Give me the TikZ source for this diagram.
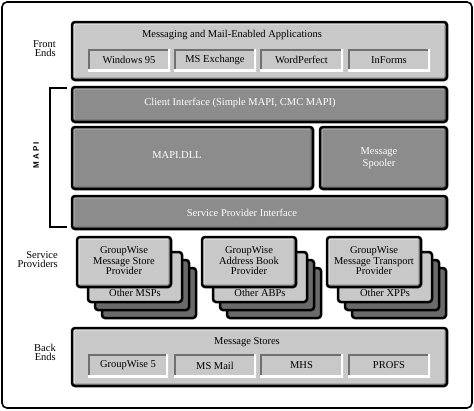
\documentclass[tikz,border=0pt]{standalone}
\usepackage{fontspec}
\setmainfont{Liberation Serif}
\newfontfamily\labsans{Liberation Sans}[LetterSpace=25]
\definecolor{lg}{HTML}{C8C8C8}
\definecolor{mg}{HTML}{8C8C8C}
\definecolor{dg}{HTML}{6A6A6A}
\definecolor{hlL}{HTML}{E4E4E4}
\definecolor{shL}{HTML}{7C7C7C}
\definecolor{hlM}{HTML}{ABABAB}
\definecolor{shM}{HTML}{5C5C5C}
\definecolor{sunkD}{HTML}{707070}
\tikzset{
  bevel/.style 2 args={path picture={
    \draw[#1, line width=5pt] (path picture bounding box.south west) -- (path picture bounding box.north west) -- (path picture bounding box.north east);
    \draw[#2, line width=5pt] (path picture bounding box.north east) -- (path picture bounding box.south east) -- (path picture bounding box.south west);
  }},
  sunkbevel/.style={path picture={
    \draw[sunkD, line width=4pt] (path picture bounding box.south west) -- (path picture bounding box.north west) -- (path picture bounding box.north east);
    \draw[white, line width=4pt] (path picture bounding box.north east) -- (path picture bounding box.south east) -- (path picture bounding box.south west);
  }},
  raisedL/.style={draw=black, line width=2.5pt, rounded corners=3pt, fill=lg, bevel={hlL}{shL}, inner sep=0pt},
  raisedM/.style={draw=black, line width=2.5pt, rounded corners=3pt, fill=mg, bevel={hlM}{shM}, inner sep=0pt},
  stackD/.style={draw=black, line width=2.5pt, rounded corners=3pt, fill=dg, inner sep=0pt, minimum width=94pt, minimum height=50pt},
  stackL/.style={draw=black, line width=2.5pt, rounded corners=3pt, fill=lg, inner sep=0pt, minimum width=94pt, minimum height=50pt},
  provfront/.style={raisedL, minimum width=94pt, minimum height=50pt},
  sunk/.style={fill=lg, sunkbevel, inner sep=0pt, minimum width=82pt},
  txt/.style={font=\fontsize{10.5}{10.5}\selectfont, inner sep=0pt, align=center},
  wtxt/.style={txt, text=white},
  sidelab/.style={font=\fontsize{10.5}{9}\selectfont, inner sep=0pt, align=right, anchor=east},
  frame/.style={draw=black, line width=1.6pt, rounded corners=5pt, fill=white, inner sep=0pt},
  bracket/.style={draw=black, line width=1.6pt}
}
\begin{document}
\begin{tikzpicture}[x=1pt,y=-1pt]
\useasboundingbox (0,0) rectangle (474,410);
\node[frame, minimum width=470pt, minimum height=406pt] (frame) at (237,205) {};

% Front ends
\node[sidelab] (felab) at (56,49) {Front\\Ends};
\node[raisedL, minimum width=375pt, minimum height=58pt] (fe) at (259.5,51) {};
\node[txt] (fetitle) at (232,35) {Messaging and Mail-Enabled Applications};
\node[sunk, minimum height=22pt] (win) at (129,60) {};
\node[txt] (wint) at (win) {Windows 95};
\node[sunk, minimum height=22pt] (mse) at (215,60) {};
\node[txt] (mset) at (mse) {MS Exchange};
\node[sunk, minimum height=22pt, minimum width=83pt] (wp) at (301.5,60) {};
\node[txt] (wpt) at (wp) {WordPerfect};
\node[sunk, minimum height=22pt] (inf) at (389,60) {};
\node[txt] (inft) at (inf) {InForms};

% MAPI
\coordinate (bt) at (67,88);
\coordinate (bb) at (67,227);
\draw[bracket] (bt) -- ++(-17,0) |- (bb);
\node[font=\labsans\bfseries\fontsize{8}{8}\selectfont, rotate=90, inner sep=0pt] (mapilab) at (36,155) {MAPI};
\node[raisedM, minimum width=375pt, minimum height=35pt] (ci) at (259.5,104.5) {};
\node[wtxt] (cit) at (240,103) {Client Interface (Simple MAPI, CMC MAPI)};
\node[raisedM, minimum width=241pt, minimum height=62pt] (dll) at (192.5,158) {};
\node[wtxt] (dllt) at (177,155) {MAPI.DLL};
\node[raisedM, minimum width=127pt, minimum height=62pt] (spool) at (383.5,158) {};
\node[wtxt, font=\fontsize{10.5}{11.5}\selectfont] (spoolt) at (379,158) {Message\\Spooler};
\node[raisedM, minimum width=375pt, minimum height=33pt] (spi) at (259.5,212.5) {};
\node[wtxt] (spit) at (242,213) {Service Provider Interface};

% Service providers
\node[sidelab] (splab) at (58,260) {Service\\Providers};

\node[stackD] (a4) at (149,293) {};
\node[stackD] (a3) at (142,285) {};
\node[stackL] (a2) at (135,277) {};
\node[txt] (a2t) at (135,293) {Other MSPs};
\node[provfront] (a1) at (124,262) {};
\node[txt] (a1t) at (124,261) {GroupWise\\Message Store\\Provider};

\node[stackD] (b4) at (274,293) {};
\node[stackD] (b3) at (267,285) {};
\node[stackL] (b2) at (260,277) {};
\node[txt] (b2t) at (260,293) {Other ABPs};
\node[provfront] (b1) at (249,262) {};
\node[txt] (b1t) at (249,261) {GroupWise\\Address Book\\Provider};

\node[stackD] (c4) at (399,293) {};
\node[stackD] (c3) at (392,285) {};
\node[stackL] (c2) at (385,277) {};
\node[txt] (c2t) at (385,293) {Other XPPs};
\node[provfront] (c1) at (374,262) {};
\node[txt] (c1t) at (374,261) {GroupWise\\Message Transport\\Provider};

% Back ends
\node[sidelab] (belab) at (56,352) {Back\\Ends};
\node[raisedL, minimum width=375pt, minimum height=58pt] (be) at (259.5,357) {};
\node[txt] (betitle) at (247,342) {Message Stores};
\node[sunk, minimum height=23pt, minimum width=80pt] (gw) at (128,365.5) {};
\node[txt] (gwt) at (gw) {GroupWise 5};
\node[sunk, minimum height=23pt] (msm) at (215,365.5) {};
\node[txt] (msmt) at (msm) {MS Mail};
\node[sunk, minimum height=23pt, minimum width=83pt] (mhs) at (301.5,365.5) {};
\node[txt] (mhst) at (mhs) {MHS};
\node[sunk, minimum height=23pt] (prof) at (389,365.5) {};
\node[txt] (proft) at (prof) {PROFS};
\end{tikzpicture}
\end{document}
